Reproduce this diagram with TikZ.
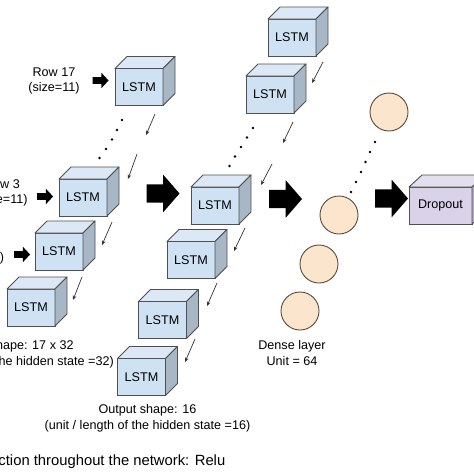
\documentclass[tikz,border=0pt]{standalone}
\usepackage{fontspec}
\setmainfont{Liberation Sans}
\usetikzlibrary{shapes.arrows,arrows.meta}
\definecolor{cubefront}{HTML}{CFE2F3}
\definecolor{cubetop}{HTML}{DCE8F5}
\definecolor{cubeside}{HTML}{A8B7C6}
\definecolor{dropfront}{HTML}{D9D2E9}
\definecolor{droptop}{HTML}{E4DFEF}
\definecolor{dropside}{HTML}{AFA8C0}
\definecolor{edgecol}{HTML}{505050}
\definecolor{peach}{HTML}{FCE5CD}
\definecolor{peachedge}{HTML}{5A4A3C}
\definecolor{thinarrow}{HTML}{333333}
\tikzset{
  frontface/.style={rectangle, draw=edgecol, line width=0.9pt, inner sep=0pt, outer sep=0pt,
    minimum height=37pt, font=\fontsize{12.6}{14}\selectfont},
  lstmfront/.style={frontface, fill=cubefront, minimum width=48pt},
  dropoutfront/.style={frontface, fill=dropfront, minimum width=63pt},
  faceedge/.style={draw=edgecol, line width=0.9pt, line join=round},
  bigarrow/.style={single arrow, fill=black, draw=none, inner xsep=0pt, inner ysep=9pt,
    outer sep=0pt, minimum height=33pt, single arrow head extend=9.5pt, single arrow tip angle=98},
  smallarrow/.style={single arrow, fill=black, draw=none, inner xsep=0pt, inner ysep=3.2pt,
    outer sep=0pt, minimum height=16pt, single arrow head extend=4.3pt, single arrow tip angle=94},
  flowarrow/.style={draw=thinarrow, line width=0.7pt, -{Stealth[length=4.5pt,width=3.6pt]}},
  dotmark/.style={circle, fill=black, inner sep=0pt, minimum size=2.6pt},
  neuron/.style={circle, draw=peachedge, fill=peach, line width=0.9pt, minimum size=38pt, inner sep=0pt},
  label/.style={align=center, font=\fontsize{12.6}{15.5}\selectfont, inner sep=0pt},
  biglabel/.style={font=\fontsize{14.8}{17}\selectfont, inner sep=0pt},
}
\newcommand\lstmcube[3]{%
  \node[lstmfront] (#1) at (#2,#3) {LSTM};
  \draw[faceedge, fill=cubetop] (#1.north west) -- ++(12,-12) -- ++(48,0) -- (#1.north east) -- cycle;
  \draw[faceedge, fill=cubeside] (#1.north east) -- ++(12,-12) -- ++(0,37) -- (#1.south east) -- cycle;
}
\begin{document}
\begin{tikzpicture}[x=1pt,y=-1pt]
\useasboundingbox (0,0) rectangle (474,474);
\clip (0,0) rectangle (474,474);

% first LSTM layer
\lstmcube{cA}{139}{87}
\lstmcube{cB}{83}{197.5}
\lstmcube{cC}{59}{251.5}
\lstmcube{cD}{31}{307.5}

% second LSTM layer
\lstmcube{cE}{292}{37.5}
\lstmcube{cF}{270}{94.5}
\lstmcube{cG}{215}{205.5}
\lstmcube{cH}{191}{260}
\lstmcube{cI}{162.5}{320}
\lstmcube{cJ}{141.5}{377}

% dropout
\node[dropoutfront] (drop) at (440.5,205.5) {Dropout};
\draw[faceedge, fill=droptop] (drop.north west) -- ++(13,-12) -- ++(63,0) -- (drop.north east) -- cycle;
\draw[faceedge, fill=dropside] (drop.north east) -- ++(13,-12) -- ++(0,37) -- (drop.south east) -- cycle;

% dense neurons
\node[neuron] (n1) at (389,112) {};
\node[neuron] (n2) at (339,215) {};
\node[neuron] (n3) at (319,264) {};
\node[neuron] (n4) at (300,311) {};

% dots
\foreach \i/\x/\y in {1/122/120,2/117/130,3/112/139.5,4/106/149,5/99.5/158}
  \node[dotmark] (da\i) at (\x,\y) {};
\foreach \i/\x/\y in {1/253/128,2/247/137.5,3/241/147,4/235/156.5,5/229.5/166}
  \node[dotmark] (db\i) at (\x,\y) {};
\foreach \i/\x/\y in {1/375/142,2/370/152,3/365.5/162,4/361/172,5/356/182,6/351/192}
  \node[dotmark] (dc\i) at (\x,\y) {};

% thin flow arrows
\coordinate (a1s) at (155,114); \coordinate (a1e) at (146,135);
\coordinate (a2s) at (137,154); \coordinate (a2e) at (128,179);
\coordinate (a3s) at (112,222); \coordinate (a3e) at (102,245);
\coordinate (a4s) at (82,277);  \coordinate (a4e) at (73,300);
\coordinate (b1s) at (323,62);  \coordinate (b1e) at (312,83);
\coordinate (b2s) at (293,122); \coordinate (b2e) at (283,143);
\coordinate (b3s) at (272,164); \coordinate (b3e) at (261,185);
\coordinate (b4s) at (245,228); \coordinate (b4e) at (234,251);
\coordinate (b5s) at (217,283); \coordinate (b5e) at (207,306);
\coordinate (b6s) at (195,339); \coordinate (b6e) at (185,362);
\foreach \p in {a1,a2,a3,a4,b1,b2,b3,b4,b5,b6}
  \draw[flowarrow] (\p s) -- (\p e);

% big block arrows
\node[bigarrow] (ba1) at (159,193.5) {};
\node[bigarrow] (ba2) at (281.5,199) {};
\node[bigarrow] (ba3) at (387.5,198.5) {};

% input arrows
\node[smallarrow] (ia1) at (99,80.5) {};
\node[smallarrow] (ia2) at (43.5,196.5) {};
\node[smallarrow] (ia3) at (20.5,254.5) {};

% labels
\node[label] (row17) at (54,81) {Row 17\\(size=11)};
\node[label] (row3) at (2,193) {Row 3\\(size=11)};
\node[label] (row2) at (-21.5,251) {Row 2\\(size=11)};
\node[label] (out1) at (11,354) {Output shape: 17 x 32\\(unit / length of the hidden state =32)};
\node[label] (out2) at (147.5,418) {Output shape: 16\\(unit / length of the hidden state =16)};
\node[label] (dense) at (292,353) {Dense layer\\Unit = 64};
\node[biglabel, anchor=east] (act) at (225.5,462) {Activation function throughout the network: Relu};
\end{tikzpicture}
\end{document}
